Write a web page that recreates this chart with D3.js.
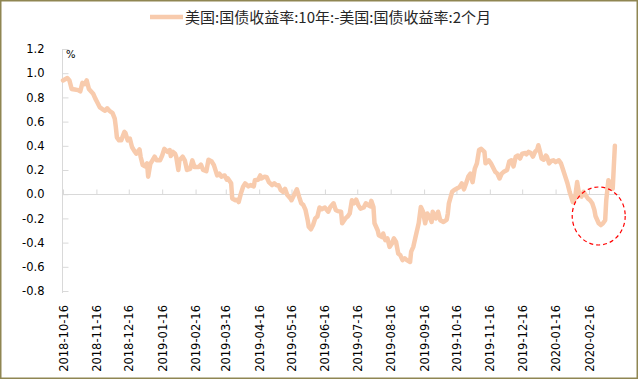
<!DOCTYPE html>
<html>
<head>
<meta charset="utf-8">
<script src="https://cdn.jsdelivr.net/npm/d3@7"></script>
<style>
  body { margin: 0; background: #fff; }
  svg { display: block; }
</style>
</head>
<body>
<div id="chart"></div>
<script>
// 美国国债收益率 10年 - 2个月 利差 (%)
var seriesName = "美国:国债收益率:10年:-美国:国债收益率:2个月";

var dates = [
  "2018-10-16","2018-10-20","2018-10-22","2018-10-24","2018-10-27","2018-10-30",
  "2018-11-01","2018-11-03","2018-11-05","2018-11-07","2018-11-09","2018-11-13","2018-11-15","2018-11-17","2018-11-19","2018-11-22","2018-11-24","2018-11-26","2018-11-28",
  "2018-12-01","2018-12-03","2018-12-04","2018-12-05","2018-12-07","2018-12-09","2018-12-12","2018-12-13","2018-12-15","2018-12-17","2018-12-19","2018-12-21","2018-12-23","2018-12-26","2018-12-27","2018-12-29","2018-12-31",
  "2019-01-02","2019-01-03","2019-01-05","2019-01-07","2019-01-09","2019-01-11","2019-01-14","2019-01-16","2019-01-18","2019-01-21","2019-01-23","2019-01-24","2019-01-26","2019-01-28","2019-01-29","2019-01-31",
  "2019-02-01","2019-02-04","2019-02-06","2019-02-08","2019-02-11","2019-02-13","2019-02-15","2019-02-19","2019-02-21","2019-02-23","2019-02-26","2019-02-28",
  "2019-03-03","2019-03-05","2019-03-08","2019-03-10","2019-03-12","2019-03-15","2019-03-17","2019-03-18","2019-03-21","2019-03-22","2019-03-25","2019-03-27","2019-03-28","2019-03-30",
  "2019-04-01","2019-04-03","2019-04-06","2019-04-08","2019-04-11","2019-04-12","2019-04-15","2019-04-17","2019-04-18","2019-04-21","2019-04-23","2019-04-25","2019-04-28","2019-04-30",
  "2019-05-02","2019-05-04","2019-05-06","2019-05-08","2019-05-10","2019-05-12","2019-05-15","2019-05-16","2019-05-19","2019-05-21","2019-05-23","2019-05-25","2019-05-27","2019-05-29","2019-05-31",
  "2019-06-01","2019-06-03","2019-06-05","2019-06-07","2019-06-09","2019-06-11","2019-06-13","2019-06-16","2019-06-19","2019-06-21","2019-06-24","2019-06-26","2019-06-28",
  "2019-07-01","2019-07-02","2019-07-05","2019-07-07","2019-07-09","2019-07-11","2019-07-13","2019-07-15","2019-07-17","2019-07-19","2019-07-22","2019-07-24","2019-07-26","2019-07-28","2019-07-29","2019-07-31",
  "2019-08-01","2019-08-04","2019-08-05","2019-08-08","2019-08-09","2019-08-11","2019-08-13","2019-08-15","2019-08-17","2019-08-19","2019-08-21","2019-08-23","2019-08-25","2019-08-27","2019-08-29","2019-08-31",
  "2019-09-03","2019-09-04","2019-09-06","2019-09-08","2019-09-11","2019-09-13","2019-09-15","2019-09-17","2019-09-19","2019-09-21","2019-09-23","2019-09-24","2019-09-27","2019-09-29",
  "2019-10-01","2019-10-04","2019-10-07","2019-10-08","2019-10-09","2019-10-12","2019-10-14","2019-10-16","2019-10-19","2019-10-21","2019-10-23","2019-10-25","2019-10-27","2019-10-29","2019-10-31",
  "2019-11-02","2019-11-04","2019-11-06","2019-11-08","2019-11-11","2019-11-12","2019-11-15","2019-11-17","2019-11-19","2019-11-21","2019-11-23","2019-11-25","2019-11-27","2019-11-29",
  "2019-12-02","2019-12-04","2019-12-06","2019-12-08","2019-12-10","2019-12-12","2019-12-14","2019-12-16","2019-12-19","2019-12-20","2019-12-22","2019-12-24","2019-12-26","2019-12-28","2019-12-30","2019-12-31",
  "2020-01-02","2020-01-03","2020-01-05","2020-01-07","2020-01-08","2020-01-10","2020-01-12","2020-01-14","2020-01-16","2020-01-19","2020-01-21","2020-01-23","2020-01-25","2020-01-27","2020-01-29",
  "2020-02-01","2020-02-03","2020-02-05","2020-02-07","2020-02-09","2020-02-11","2020-02-13","2020-02-15","2020-02-17","2020-02-19","2020-02-21","2020-02-22","2020-02-25","2020-02-27","2020-02-29",
  "2020-03-02","2020-03-03","2020-03-05","2020-03-07","2020-03-09","2020-03-10","2020-03-11"
];

var spread = [
  0.94,0.96,0.94,0.87,0.865,0.86,
  0.85,0.92,0.91,0.94,0.87,0.83,0.79,0.755,0.72,0.70,0.69,0.71,0.69,
  0.67,0.625,0.555,0.47,0.445,0.445,0.515,0.505,0.445,0.46,0.39,0.36,0.335,0.37,0.31,0.24,0.23,
  0.255,0.145,0.25,0.28,0.31,0.28,0.28,0.32,0.375,0.35,0.365,0.315,0.35,0.335,0.31,0.20,
  0.28,0.31,0.28,0.20,0.21,0.28,0.225,0.225,0.245,0.20,0.19,0.285,
  0.27,0.24,0.155,0.17,0.145,0.155,0.12,0.13,0.09,-0.035,-0.05,-0.045,-0.065,0.005,
  0.06,0.09,0.065,0.075,0.065,0.115,0.12,0.155,0.13,0.145,0.14,0.10,0.075,0.09,
  0.075,0.075,0.035,0.02,0.045,-0.005,-0.035,-0.05,0.005,0.04,-0.02,-0.075,-0.09,-0.13,-0.215,
  -0.27,-0.29,-0.255,-0.20,-0.185,-0.11,-0.125,-0.11,-0.145,-0.105,-0.075,-0.13,-0.14,
  -0.145,-0.24,-0.20,-0.185,-0.16,-0.05,-0.075,-0.045,-0.09,-0.12,-0.11,-0.075,-0.09,-0.10,-0.055,-0.105,
  -0.24,-0.30,-0.34,-0.355,-0.325,-0.38,-0.365,-0.435,-0.41,-0.365,-0.395,-0.49,-0.505,-0.545,-0.53,-0.545,
  -0.56,-0.475,-0.435,-0.355,-0.24,-0.105,-0.145,-0.24,-0.16,-0.185,-0.23,-0.145,-0.20,-0.145,
  -0.215,-0.23,-0.21,-0.16,-0.075,0.02,0.035,0.045,0.06,0.09,0.04,0.09,0.145,0.17,0.10,
  0.21,0.255,0.365,0.375,0.35,0.255,0.28,0.255,0.22,0.185,0.17,0.13,0.17,0.185,
  0.20,0.27,0.28,0.23,0.31,0.32,0.295,0.335,0.34,0.33,0.35,0.34,0.31,0.35,0.37,0.405,
  0.335,0.295,0.285,0.32,0.31,0.255,0.275,0.28,0.265,0.28,0.255,0.20,0.145,0.09,0.02,
  -0.065,-0.035,0.10,-0.01,-0.02,0.02,-0.01,-0.035,-0.05,-0.075,-0.13,-0.18,-0.24,-0.255,-0.24,
  -0.215,-0.05,0.115,0.09,0.045,0.225,0.40
];

var xTickLabels = [
  "2018-10-16","2018-11-16","2018-12-16","2019-01-16","2019-02-16","2019-03-16",
  "2019-04-16","2019-05-16","2019-06-16","2019-07-16","2019-08-16","2019-09-16",
  "2019-10-16","2019-11-16","2019-12-16","2020-01-16","2020-02-16"
];
var yTicks = [-0.8, -0.6, -0.4, -0.2, 0.0, 0.2, 0.4, 0.6, 0.8, 1.0, 1.2];

var width = 640, height = 382;
var parse = d3.timeParse("%Y-%m-%d");
var data = dates.map(function(d, i) { return {date: parse(d), value: spread[i]}; });

var svg = d3.select("#chart").append("svg")
  .attr("width", width)
  .attr("height", height);

// outer frame
svg.append("rect")
  .attr("x", 0.75).attr("y", 0.75)
  .attr("width", 636.5).attr("height", 377.5)
  .attr("fill", "#fff")
  .attr("stroke", "#8f8652")
  .attr("stroke-width", 1.5);

var x = d3.scaleTime()
  .domain([parse(xTickLabels[0]), parse(xTickLabels[xTickLabels.length - 1])])
  .range([63, 589]);
var y = d3.scaleLinear()
  .domain([-0.8, 1.2])
  .range([291, 49]);

var axisColor = "#d9d9d9";
var labelFont = "'DejaVu Sans', Verdana, sans-serif";

// y axis (ticks inward, labels on the left)
var yAxis = svg.append("g")
  .attr("transform", "translate(62.5,0)")
  .call(d3.axisLeft(y).tickValues(yTicks).tickSize(-6).tickSizeOuter(0).tickPadding(18)
    .tickFormat(function(d) { return d.toFixed(1); }));
yAxis.select(".domain").attr("stroke", axisColor).attr("d", "M0," + y(1.2) + "V" + (y(-0.8) + 2));
yAxis.selectAll(".tick line").attr("stroke", axisColor);
yAxis.selectAll("text")
  .attr("font-family", labelFont)
  .attr("font-size", "11.5px")
  .attr("fill", "#000");

// zero line with small upward ticks
var zeroY = Math.round(y(0)) + 0.5;
svg.append("line")
  .attr("x1", 62.5).attr("x2", 620)
  .attr("y1", zeroY).attr("y2", zeroY)
  .attr("stroke", axisColor);
var xAxis = svg.append("g")
  .attr("transform", "translate(0," + zeroY + ")")
  .call(d3.axisBottom(x).tickValues(xTickLabels.map(parse)).tickSize(-5).tickFormat(""));
xAxis.select(".domain").remove();
xAxis.selectAll(".tick line").attr("stroke", axisColor);

// rotated date labels along the bottom
var xLabels = svg.append("g")
  .attr("transform", "translate(0,300)")
  .call(d3.axisBottom(x).tickValues(xTickLabels.map(parse)).tickSize(0)
    .tickFormat(d3.timeFormat("%Y-%m-%d")));
xLabels.select(".domain").remove();
xLabels.selectAll("text")
  .attr("transform", "rotate(-90)")
  .attr("x", -5)
  .attr("y", 0)
  .attr("dy", "0.35em")
  .attr("text-anchor", "end")
  .attr("font-family", labelFont)
  .attr("font-size", "11.5px")
  .attr("fill", "#000");

// unit
svg.append("text")
  .attr("x", 66).attr("y", 58)
  .attr("font-family", labelFont)
  .attr("font-size", "10px")
  .attr("fill", "#000")
  .text("%");

// series line
var line = d3.line()
  .x(function(d) { return x(d.date); })
  .y(function(d) { return y(d.value); });
svg.append("path")
  .datum(data)
  .attr("d", line)
  .attr("fill", "none")
  .attr("stroke", "#f8cbad")
  .attr("stroke-width", 4.5)
  .attr("stroke-linejoin", "round")
  .attr("stroke-linecap", "round");

// legend
svg.append("line")
  .attr("x1", 150).attr("x2", 183)
  .attr("y1", 17).attr("y2", 17)
  .attr("stroke", "#f8cbad")
  .attr("stroke-width", 4.5);
svg.append("text")
  .attr("x", 185).attr("y", 22.5)
  .attr("font-family", "'Noto Sans CJK SC', sans-serif")
  .attr("font-size", "15px")
  .attr("fill", "#262626")
  .text(seriesName);

// highlight circle around the latest dip
svg.append("ellipse")
  .attr("cx", x(parse("2020-02-25")))
  .attr("cy", y(-0.18))
  .attr("rx", 26.5)
  .attr("ry", 29)
  .attr("fill", "none")
  .attr("stroke", "#ff0000")
  .attr("stroke-width", 1.2)
  .attr("stroke-dasharray", "4,3");
</script>
</body>
</html>
